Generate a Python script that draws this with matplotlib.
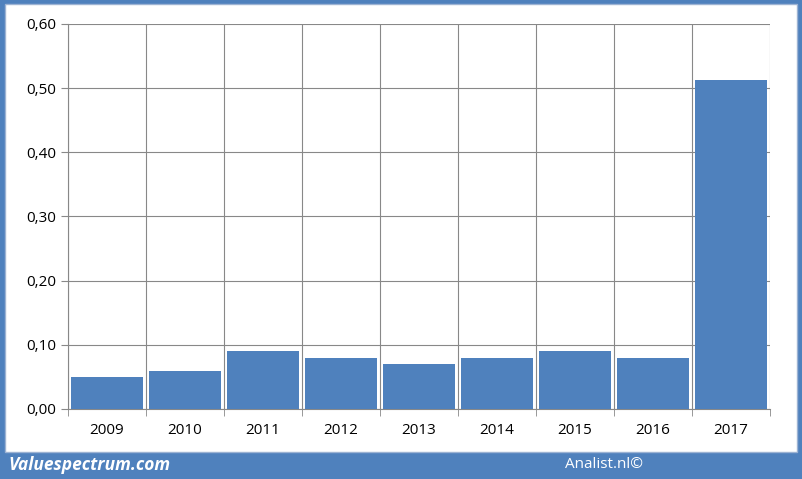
import matplotlib
matplotlib.use("Agg")
import matplotlib.pyplot as plt
from matplotlib.patches import Rectangle

years = ["2009", "2010", "2011", "2012", "2013", "2014", "2015", "2016", "2017"]
values = [0.05, 0.06, 0.09, 0.08, 0.07, 0.08, 0.09, 0.08, 0.512]
yticks = [0.0, 0.1, 0.2, 0.3, 0.4, 0.5, 0.6]
ytick_labels = ["0,00", "0,10", "0,20", "0,30", "0,40", "0,50", "0,60"]

plt.rcParams['font.family'] = ['Open Sans', 'DejaVu Sans']
blue = "#4F81BD"
fig = plt.figure(figsize=(8.03, 4.79), dpi=100, facecolor=blue)
fig.patches.append(Rectangle((5/803, 27/479), 792/803, 448/479, transform=fig.transFigure,
                             facecolor="white", edgecolor="#9DB3D3", linewidth=1, zorder=-5))
ax = fig.add_axes([68/803, 1-409/479, 702/803, (409-24)/479])
ax.set_facecolor("white")
x = list(range(len(years)))
ax.bar(x, values, width=0.93, color=blue, zorder=3)
ax.set_xlim(-0.5, len(years)-0.5)
ax.set_ylim(0, 0.6)
ax.set_yticks(yticks)
ax.set_yticklabels(ytick_labels, fontsize=11)
ax.set_xticks(x)
ax.set_xticklabels(years, fontsize=11)
ax.set_xticks([i-0.5 for i in range(len(years)+1)], minor=True)
ax.tick_params(axis='x', which='major', length=0, pad=10)
ax.tick_params(axis='x', which='minor', length=5, color="#888888")
ax.tick_params(axis='y', length=5, color="#888888")
ax.grid(True, axis='y', color="#888888", linewidth=0.8, zorder=0)
ax.grid(True, axis='x', which='minor', color="#888888", linewidth=0.8, zorder=0)
ax.set_axisbelow(True)
for s in ["top", "right"]:
    ax.spines[s].set_visible(False)
ax.spines["left"].set_color("#888888")
ax.spines["bottom"].set_color("#888888")
fig.text(8/803, 1-465/479, "Valuespectrum.com", color="white", fontsize=12.5,
         fontweight="bold", fontstyle="italic", va="center")
fig.text(565/803, 1-465/479, "Analist.nl©", color="white", fontsize=11, va="center")
fig.savefig("out.png", dpi=100, facecolor=blue)
